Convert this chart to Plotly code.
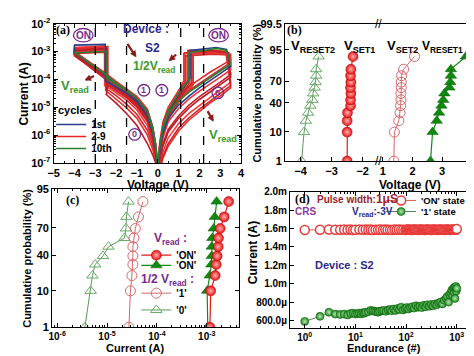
import plotly.graph_objects as go
from statistics import NormalDist

W, H = 474, 356
FONT = "Liberation Sans"
SERIF = "Liberation Serif"

# ---------------- (a) I-V switching cycles ----------------
CYCLE_NAMES = ["1st", "2-9", "2-9", "2-9", "2-9", "2-9", "2-9", "2-9", "2-9", "10th"]
V_NEG = [-0.03, -0.1, -0.25, -0.5, -1.0, -1.5, -2.0, -2.5]
I_NEG = [
    [1.2e-7, 3e-7, 1.2e-6, 5e-6, 1.6e-5, 3.2e-5, 5.5e-5, 9e-5],
    [1.4e-7, 4e-7, 1.8e-6, 8e-6, 2.4e-5, 4.2e-5, 7e-5, 1.2e-4],
    [1e-7, 2.5e-7, 9e-7, 3.5e-6, 1.2e-5, 2.5e-5, 4.5e-5, 8e-5],
    [8e-8, 2e-7, 6e-7, 2.2e-6, 8e-6, 1.8e-5, 3.4e-5, 6e-5],
    [7e-8, 1.6e-7, 4.5e-7, 1.5e-6, 5.5e-6, 1.3e-5, 2.6e-5, 4.8e-5],
    [6e-8, 1.3e-7, 3.2e-7, 1e-6, 4e-6, 9.5e-6, 2e-5, 4e-5],
    [5e-8, 1e-7, 2e-7, 5e-7, 2.2e-6, 6e-6, 1.4e-5, 3e-5],
    [1.3e-7, 3.5e-7, 1.5e-6, 6.5e-6, 2e-5, 3.8e-5, 6.5e-5, 1.1e-4],
    [9e-8, 2.2e-7, 7.5e-7, 3e-6, 1e-5, 2.2e-5, 4e-5, 7e-5],
    [1.3e-7, 3.6e-7, 1.6e-6, 7e-6, 2.1e-5, 4e-5, 6.8e-5, 1.15e-4],
]
V_SET1 = [-2.52, -2.5, -2.45, -2.55, -2.4, -2.5, -2.45, -2.55, -2.42, -2.45]
I_ON_NEG = [1.8e-3, 1.4e-3, 1.2e-3, 1.0e-3, 1.5e-3, 1.1e-3, 1.3e-3, 1.6e-3, 9.5e-4, 1.0e-3]
I_ON_NEG_END = [1.7e-3, 1.2e-3, 1.0e-3, 9e-4, 1.3e-3, 1.0e-3, 1.1e-3, 1.4e-3, 8.5e-4, 9e-4]
V_RET_NEG = [-4.0, -3.5, -3.0, -2.5, -2.0, -1.5, -1.0, -0.5, -0.25, -0.1, -0.03]
I_RET_NEG = [
    [9e-4, 5e-4, 2.7e-4, 1.4e-4, 7e-5, 4e-5, 2e-5, 7e-6, 1.8e-6, 4e-7, 1.3e-7],
    [1e-3, 5.5e-4, 3e-4, 1.6e-4, 8e-5, 4.5e-5, 2.3e-5, 8e-6, 2e-6, 4.5e-7, 1.4e-7],
    [8e-4, 4.5e-4, 2.5e-4, 1.3e-4, 6.5e-5, 3.5e-5, 1.7e-5, 5.5e-6, 1.4e-6, 3.2e-7, 1.1e-7],
    [8.5e-4, 4.6e-4, 2.4e-4, 1.2e-4, 6e-5, 3.2e-5, 1.5e-5, 4.5e-6, 1.1e-6, 2.6e-7, 1e-7],
    [9.5e-4, 5.2e-4, 2.8e-4, 1.5e-4, 7.5e-5, 4e-5, 1.9e-5, 6.5e-6, 1.6e-6, 3.8e-7, 1.2e-7],
    [7.5e-4, 4e-4, 2.2e-4, 1.1e-4, 5.5e-5, 2.8e-5, 1.3e-5, 4e-6, 9e-7, 2.2e-7, 9e-8],
    [8e-4, 4.3e-4, 2.3e-4, 1.2e-4, 5.8e-5, 3e-5, 1.4e-5, 4.2e-6, 1e-6, 2.4e-7, 9e-8],
    [1e-3, 5.6e-4, 3.1e-4, 1.65e-4, 8.5e-5, 4.6e-5, 2.4e-5, 8.5e-6, 2.1e-6, 4.8e-7, 1.5e-7],
    [7e-4, 3.8e-4, 2e-4, 1e-4, 5e-5, 2.6e-5, 1.2e-5, 3.5e-6, 8e-7, 2e-7, 8e-8],
    [9e-4, 5e-4, 2.8e-4, 1.5e-4, 7.5e-5, 4.2e-5, 2.1e-5, 7.5e-6, 1.9e-6, 4.2e-7, 1.3e-7],
]
V_POS = [0.03, 0.1, 0.25, 0.5, 1.0]
I_POS = [
    [1.2e-7, 4e-7, 1.8e-6, 7e-6, 3e-5],
    [1.5e-7, 5e-7, 2.5e-6, 1e-5, 4e-5],
    [1e-7, 3e-7, 1.2e-6, 5e-6, 2.2e-5],
    [9e-8, 2.5e-7, 1e-6, 4e-6, 1.8e-5],
    [1.3e-7, 4.5e-7, 2e-6, 8e-6, 3.4e-5],
    [8e-8, 2e-7, 8e-7, 3.5e-6, 1.5e-5],
    [1.1e-7, 3.5e-7, 1.5e-6, 6e-6, 2.6e-5],
    [1.4e-7, 4.8e-7, 2.2e-6, 9e-6, 3.7e-5],
    [1e-7, 2.8e-7, 1.1e-6, 4.5e-6, 2e-5],
    [1.3e-7, 4.2e-7, 1.9e-6, 7.5e-6, 3.2e-5],
]
V_SET2 = [1.55, 1.3, 1.5, 1.65, 1.35, 1.7, 1.45, 1.25, 1.6, 1.5]
I_PRE2 = [1.1e-4, 8e-5, 7e-5, 7.5e-5, 9e-5, 6.5e-5, 8e-5, 9e-5, 7e-5, 1e-4]
I_ON_POS = [1.1e-3, 9e-4, 8e-4, 1e-3, 7e-4, 9e-4, 1.1e-3, 8.5e-4, 1e-3, 9e-4]
V_ON_MID = [2.8, 2.7, 2.9, 2.8, 2.6, 2.9, 2.75, 2.85, 2.7, 2.85]
I_ON_MID = [1.4e-3, 1e-3, 9e-4, 1.1e-3, 8e-4, 9.5e-4, 1.05e-3, 9e-4, 1e-3, 1.3e-3]
V_RESET1 = [3.3, 3.4, 3.35, 3.25, 3.45, 3.3, 3.4, 3.5, 3.35, 3.3]
I_ON_END = [1.2e-3, 9e-4, 8e-4, 1e-3, 7.5e-4, 8e-4, 9e-4, 8e-4, 9e-4, 1.1e-3]
V_RET_POS = [3.5, 3.0, 2.5, 2.0, 1.5, 1.0, 0.5, 0.25, 0.1, 0.03]
I_RET_POS = [
    [3e-4, 1.6e-4, 9e-5, 5e-5, 2.5e-5, 1.2e-5, 4e-6, 1.2e-6, 3e-7, 1e-7],
    [5e-4, 3e-4, 1.8e-4, 1e-4, 5.5e-5, 2.8e-5, 1e-5, 3e-6, 6e-7, 1.5e-7],
    [1.5e-4, 8e-5, 4.5e-5, 2.4e-5, 1.2e-5, 5e-6, 1.6e-6, 5e-7, 1.6e-7, 7e-8],
    [8e-5, 4.2e-5, 2.3e-5, 1.2e-5, 6e-6, 2.6e-6, 8e-7, 2.5e-7, 1e-7, 5e-8],
    [4e-4, 2.3e-4, 1.3e-4, 7.5e-5, 4e-5, 2e-5, 7e-6, 2e-6, 4.5e-7, 1.3e-7],
    [5e-5, 2.5e-5, 1.4e-5, 7e-6, 3.5e-6, 1.4e-6, 4e-7, 1.5e-7, 6e-8, 4e-8],
    [1.2e-4, 6.5e-5, 3.5e-5, 1.9e-5, 9.5e-6, 4e-6, 1.3e-6, 4e-7, 1.3e-7, 6e-8],
    [2.2e-4, 1.2e-4, 7e-5, 3.8e-5, 2e-5, 9e-6, 3e-6, 9e-7, 2.5e-7, 9e-8],
    [6e-5, 3.2e-5, 1.7e-5, 8.5e-6, 4.2e-6, 1.8e-6, 5e-7, 1.7e-7, 7e-8, 4e-8],
    [3.5e-4, 2e-4, 1.1e-4, 6.5e-5, 3.5e-5, 1.7e-5, 6e-6, 1.7e-6, 4e-7, 1.2e-7],
]
I_ZERO = 3e-8
READ_LINES_V = [-3.0, -1.5, 1.1, 2.2]
A_YTICKS = [1e-7, 1e-6, 1e-5, 1e-4, 1e-3, 1e-2]
A_YLABELS = ["10<sup>-7</sup>", "10<sup>-6</sup>", "10<sup>-5</sup>", "10<sup>-4</sup>", "10<sup>-3</sup>", "10<sup>-2</sup>"]

# ---------------- (b) switching voltage distributions ----------------
P_B = [1, 9.8, 18.7, 27.4, 36.3, 44.3, 53.5, 61.6, 68.8, 76.4, 82.9, 92]
RESET2_V = [-3.97, -3.89, -3.83, -3.76, -3.69, -3.62, -3.60, -3.55, -3.52, -3.50, -3.50, -3.42]
SET1_V = [-2.50, -2.50, -2.50, -2.49, -2.39, -2.39, -2.38, -2.39, -2.38, -2.39, -2.38, -2.31]
SET2_V = [1.37, 1.39, 1.54, 1.58, 1.60, 1.61, 1.61, 1.62, 1.62, 1.63, 1.70, 2.07]
RESET1_V = [2.61, 2.68, 2.82, 2.90, 2.98, 3.04, 3.08, 3.25, 3.28, 3.30, 3.30, 3.81]
B_PTICKS = [1, 10, 40, 70, 95, 99.5]

# ---------------- (c) read current distributions ----------------
P_C = [1, 10, 20, 30, 39, 49.5, 59.3, 69.5, 80, 90]
ON_RED_I = [1.16e-3, 1.2e-3, 1.48e-3, 1.55e-3, 1.62e-3, 1.7e-3, 1.72e-3, 1.86e-3, 2.24e-3, 2.75e-3]
ON_GREEN_I = [1.05e-3, 1.02e-3, 1.15e-3, 1.24e-3, 1.26e-3, 1.26e-3, 1.29e-3, 1.38e-3, 1.45e-3, 1.58e-3]
ONE_I = [2.75e-5, 2.95e-5, 3.16e-5, 3.3e-5, 3.3e-5, 3.3e-5, 3.47e-5, 3.7e-5, 4.27e-5, 5.25e-5]
ZERO_I = [3.6e-6, 4.7e-6, 5.1e-6, 5.8e-6, 8.3e-6, 1.07e-5, 2.24e-5, 2.4e-5, 2.45e-5, 2.7e-5]
C_PTICKS = [1, 10, 40, 70, 95]
C_XTICKS = [1e-6, 1e-5, 1e-4, 1e-3]
C_XLABELS = ["10<sup>-6</sup>", "10<sup>-5</sup>", "10<sup>-4</sup>", "10<sup>-3</sup>"]

# ---------------- (d) endurance ----------------
ON_N = [1, 2, 3, 4, 5, 6, 7, 8, 9, 10, 12, 14, 16, 18, 20, 22, 25, 28, 31, 35, 39, 43, 48, 53,
        59, 65, 72, 80, 88, 97, 102, 107, 112, 118, 124, 130, 137, 143, 150, 158, 166, 174, 183,
        192, 202, 212, 223, 234, 246, 258, 271, 285, 299, 314, 330, 347, 365, 383, 402, 422,
        443, 466, 490, 514, 540, 567, 596, 626, 657, 690, 725, 762, 800, 840, 882, 927, 970, 1000]
ON_MA = [1.585, 1.588, 1.590, 1.588, 1.586, 1.590, 1.587, 1.589, 1.585, 1.588, 1.590, 1.586,
         1.589, 1.587, 1.590, 1.585, 1.588, 1.586, 1.589, 1.587, 1.590, 1.586, 1.588, 1.585,
         1.589, 1.587, 1.590, 1.586, 1.588, 1.585, 1.589, 1.587, 1.590, 1.586, 1.588, 1.585,
         1.589, 1.587, 1.590, 1.586, 1.588, 1.585, 1.589, 1.587, 1.590, 1.586, 1.588, 1.585,
         1.589, 1.587, 1.590, 1.586, 1.588, 1.585, 1.589, 1.587, 1.590, 1.586, 1.588, 1.585,
         1.589, 1.587, 1.590, 1.586, 1.588, 1.585, 1.589, 1.587, 1.590, 1.586, 1.588, 1.585,
         1.589, 1.587, 1.590, 1.586, 1.588, 1.595]
ONE_N = [1, 2, 3, 4, 5, 6, 7, 8, 9, 10, 11, 12, 13, 14, 15, 16, 18, 20, 22, 24, 26, 28, 30,
         33, 36, 40, 44, 48, 52, 57, 62, 68, 74, 80, 87, 95, 103, 112, 122, 133, 145, 158, 172,
         187, 204, 222, 242, 263, 287, 312, 340, 370, 403, 439, 478, 520, 566, 617, 650, 690,
         720, 760, 800, 830, 860, 880, 900, 920, 940, 960, 980, 1000]
ONE_MA = [0.590, 0.645, 0.690, 0.670, 0.665, 0.670, 0.660, 0.675, 0.680, 0.670, 0.675, 0.680,
          0.672, 0.685, 0.680, 0.690, 0.695, 0.710, 0.705, 0.700, 0.695, 0.690, 0.700, 0.705,
          0.710, 0.700, 0.715, 0.720, 0.705, 0.725, 0.710, 0.730, 0.720, 0.745, 0.715, 0.730,
          0.740, 0.725, 0.740, 0.750, 0.735, 0.760, 0.745, 0.755, 0.740, 0.765, 0.750, 0.770,
          0.755, 0.775, 0.760, 0.780, 0.770, 0.790, 0.800, 0.780, 0.820, 0.840, 0.860, 0.800,
          0.880, 0.900, 0.930, 0.870, 0.950, 0.910, 0.960, 0.840, 0.940, 0.970, 0.920, 0.950]
D_XTICKS = [1, 10, 100, 1000]
D_XLABELS = ["10<sup>0</sup>", "10<sup>1</sup>", "10<sup>2</sup>", "10<sup>3</sup>"]
D_YTICKS = [0.6, 0.8, 1.0, 1.2, 1.4, 1.6, 1.8, 2.0]
D_YLABELS = ["600.0\u00b5", "800.0\u00b5", "1.0m", "1.2m", "1.4m", "1.6m", "1.8m", "2.0m"]

nd = NormalDist()


def probit(plist):
    return [nd.inv_cdf(p / 100.0) for p in plist]


def px(x):
    return x / W


def py(y):
    return 1 - y / H


fig = go.Figure()

# ---- panel (a) traces ----
RED_SHADES = ["#e8262a", "#c81e28", "#f03c3c", "#d42a2a", "#e03030", "#b81c24", "#ee3535", "#d02020"]
LEG_A = {0: "legend", 1: "legend2", 9: "legend3"}
order = list(range(1, 9)) + [0, 9]
for c in order:
    vv = ([0.0] + V_NEG + [V_SET1[c], V_SET1[c], -4.0] + V_RET_NEG + [0.0] + V_POS
          + [V_SET2[c], V_SET2[c], V_ON_MID[c], V_RESET1[c]] + V_RET_POS + [0.0])
    ii = ([I_ZERO] + I_NEG[c] + [I_NEG[c][-1], I_ON_NEG[c], I_ON_NEG_END[c]] + I_RET_NEG[c]
          + [I_ZERO] + I_POS[c] + [I_PRE2[c], I_ON_POS[c], I_ON_MID[c], I_ON_END[c]]
          + I_RET_POS[c] + [I_ZERO])
    if c == 0:
        col = "#2b3f8c"
    elif c == 9:
        col = "#2e7d32"
    else:
        col = RED_SHADES[c - 1]
    fig.add_trace(go.Scatter(x=vv, y=ii, mode="lines", xaxis="x", yaxis="y",
                             line=dict(color=col, width=1.6), name=CYCLE_NAMES[c],
                             showlegend=(c in LEG_A), legend=LEG_A.get(c, "legend")))

# ---- panel (b) traces ----
PB = probit(P_B)
fig.add_trace(go.Scatter(x=RESET2_V, y=PB, xaxis="x2", yaxis="y2", mode="lines+markers",
                         line=dict(color="#5a9a5a", width=1),
                         marker=dict(symbol="triangle-up-open", size=10, color="#6aaa6a", line=dict(width=1)),
                         showlegend=False))
fig.add_trace(go.Scatter(x=SET1_V, y=PB, xaxis="x2", yaxis="y2", mode="lines+markers",
                         line=dict(color="#e01818", width=1.2),
                         marker=dict(symbol="circle", size=10, color="#e81414",
                                     gradient=dict(type="radial", color="#ffb0b0"),
                                     line=dict(width=0.5, color="#b00000")),
                         showlegend=False))
fig.add_trace(go.Scatter(x=SET2_V, y=PB, xaxis="x3", yaxis="y2", mode="lines+markers",
                         line=dict(color="#d06a6a", width=1),
                         marker=dict(symbol="circle-open", size=10, color="#d86a6a", line=dict(width=1)),
                         showlegend=False))
fig.add_trace(go.Scatter(x=RESET1_V, y=PB, xaxis="x3", yaxis="y2", mode="lines+markers",
                         line=dict(color="#138a13", width=1.2),
                         marker=dict(symbol="triangle-up", size=10, color="#0f8a0f",
                                     line=dict(width=0.5, color="#0a5a0a")),
                         showlegend=False))

# ---- panel (c) traces ----
PC = probit(P_C)
fig.add_trace(go.Scatter(x=ZERO_I, y=PC, xaxis="x4", yaxis="y4", mode="lines+markers",
                         line=dict(color="#5a9a5a", width=1),
                         marker=dict(symbol="triangle-up-open", size=10, color="#6aaa6a", line=dict(width=1)),
                         name="'0'", legend="legend7"))
fig.add_trace(go.Scatter(x=ONE_I, y=PC, xaxis="x4", yaxis="y4", mode="lines+markers",
                         line=dict(color="#d06a6a", width=1),
                         marker=dict(symbol="circle-open", size=10, color="#d86a6a", line=dict(width=1)),
                         name="'1'", legend="legend6"))
fig.add_trace(go.Scatter(x=ON_GREEN_I, y=PC, xaxis="x4", yaxis="y4", mode="lines+markers",
                         line=dict(color="#138a13", width=1.2),
                         marker=dict(symbol="triangle-up", size=10, color="#0f8a0f",
                                     line=dict(width=0.5, color="#0a5a0a")),
                         name="'ON'", legend="legend5"))
fig.add_trace(go.Scatter(x=ON_RED_I, y=PC, xaxis="x4", yaxis="y4", mode="lines+markers",
                         line=dict(color="#e01818", width=1.2),
                         marker=dict(symbol="circle", size=10, color="#e81414",
                                     gradient=dict(type="radial", color="#ffb0b0"),
                                     line=dict(width=0.5, color="#b00000")),
                         name="'ON'", legend="legend4"))

# ---- panel (d) traces ----
fig.add_trace(go.Scatter(x=ONE_N, y=ONE_MA, xaxis="x5", yaxis="y5", mode="lines+markers",
                         line=dict(color="#2a6a2a", width=0.8),
                         marker=dict(symbol="circle", size=8, color="#1e8c1e",
                                     gradient=dict(type="radial", color="#b8e8b8"),
                                     line=dict(width=0.6, color="#106010")),
                         name="'1' state", legend="legend9"))
fig.add_trace(go.Scatter(x=ON_N, y=ON_MA, xaxis="x5", yaxis="y5", mode="lines+markers",
                         line=dict(color="#e05a5a", width=1),
                         marker=dict(symbol="circle", size=9, color="white",
                                     line=dict(width=1.5, color="#e83a3a")),
                         name="'ON' state", legend="legend8"))

# ---- axes ----
TF = dict(family=FONT, size=11, color="black", weight="bold")
base = dict(showline=True, linecolor="black", linewidth=1.2, ticks="inside", ticklen=4,
            tickwidth=1, tickcolor="black", showgrid=False, zeroline=False, tickfont=TF)

log_minor_a = [m * 10 ** e for e in range(-7, -2) for m in range(2, 10)]
log_minor_d = [m * 10 ** e for e in range(0, 4) for m in range(2, 10)]

layout_axes = dict(
    xaxis=dict(base, domain=[px(40.5), px(232)], range=[-5, 4], dtick=1, anchor="y", mirror="ticks",
               minor=dict(dtick=0.5, ticks="inside", ticklen=2, tickcolor="black")),
    yaxis=dict(base, domain=[py(153), py(8)], type="log", range=[-7, -2], anchor="x", mirror="ticks",
               tickvals=A_YTICKS, ticktext=A_YLABELS,
               minor=dict(tickvals=log_minor_a, ticks="inside", ticklen=2, tickcolor="black")),
    xaxis2=dict(base, domain=[px(277), px(372)], range=[-4.5, -1.5], tickvals=[-4, -3, -2],
                anchor="y2", mirror=True),
    xaxis3=dict(base, domain=[px(372), px(472)], range=[0.84, 4.15], tickvals=[1, 2, 3, 4],
                anchor="y2", mirror=True),
    yaxis2=dict(base, domain=[py(151), py(8)], range=probit([1, 99.5]), anchor="x2", mirror=False,
                tickvals=probit(B_PTICKS), ticktext=[str(p) for p in B_PTICKS]),
    yaxis3=dict(base, overlaying="y2", anchor="x3", side="right", range=probit([1, 99.5]),
                tickvals=probit(B_PTICKS), showticklabels=False),
    xaxis4=dict(base, domain=[px(39), px(230)], type="log", range=[-6.1, -2.35], anchor="y4",
                mirror="ticks", tickvals=C_XTICKS, ticktext=C_XLABELS, tickfont=dict(TF, size=10),
                minor=dict(tickvals=log_minor_a, ticks="inside", ticklen=2, tickcolor="black")),
    yaxis4=dict(base, domain=[py(324), py(180)], range=probit([1, 95]), anchor="x4", mirror="ticks",
                tickvals=probit(C_PTICKS), ticktext=[str(p) for p in C_PTICKS]),
    xaxis5=dict(base, domain=[px(282), px(473)], type="log", range=[-0.29, 3.4], anchor="y5",
                mirror="ticks", tickvals=D_XTICKS, ticktext=D_XLABELS, tickfont=dict(TF, size=10),
                minor=dict(tickvals=log_minor_d, ticks="inside", ticklen=2, tickcolor="black")),
    yaxis5=dict(base, domain=[py(325), py(183)], range=[0.516, 2.0], anchor="x5", mirror="ticks",
                tickvals=D_YTICKS, ticktext=D_YLABELS, tickfont=dict(TF, size=10)),
)

# ---- annotations ----
anns = []


def ann(x, y, text, size=11, color="black", family=FONT, weight="bold", **kw):
    d = dict(x=px(x), y=py(y), xref="paper", yref="paper", text=text, showarrow=False,
             font=dict(family=family, size=size, color=color, weight=weight),
             xanchor="center", yanchor="middle")
    d.update(kw)
    anns.append(d)


def arrow(hx, hy, tx, ty):
    anns.append(dict(x=px(hx), y=py(hy), xref="paper", yref="paper", text="", showarrow=True,
                     ax=tx - hx, ay=ty - hy, arrowhead=2, arrowsize=0.6, arrowwidth=2.2,
                     arrowcolor="#8b1a1a"))


NAVY = "#2a2a8c"
GREEN = "#3a9a2a"
PURPLE = "#7a2a8a"

# axis titles
ann(147, 176, "Voltage (V)", size=12)
ann(10, 81, "Current (A)", size=12, textangle=-90)
ann(405, 176, "Voltage (V)", size=12)
ann(248, 80, "Cumulative probability (%)", size=11, textangle=-90)
ann(124, 346, "Current (A)", size=11)
ann(13, 252, "Cumulative probability (%)", size=11, textangle=-90)
ann(378, 346, "Endurance (#)", size=11)
ann(244, 246, "Current (A)", size=12, textangle=-90)

# panel (a) labels
ann(50, 15, "(a)", size=12, family=SERIF)
ann(70.7, 20, "ON", size=10, color=PURPLE)
ann(209, 20, "ON", size=10, color=PURPLE)
ann(135, 14, "Device :", size=12, color=NAVY)
ann(141, 33, "S2", size=12, color=NAVY)
ann(143, 53, "1/2V<sub>read</sub>", size=12, color=GREEN)
ann(62, 73, "V<sub>read</sub>", size=13, color=GREEN)
ann(214, 124, "V<sub>read</sub>", size=13, color=GREEN)
ann(132.7, 77.3, "1", size=9, color=PURPLE)
ann(151, 77.3, "1", size=9, color=PURPLE)
ann(123.3, 123.3, "0", size=9, color=PURPLE)
ann(208.3, 80, "0", size=9, color=PURPLE)
ann(43, 98, "cycles", size=11, xanchor="left")
arrow(125, 43, 115, 28)
arrow(158, 47, 167, 39)
arrow(72, 67, 83, 62)
arrow(204, 110, 197, 98)

# panel (b) labels
ann(287, 15, "(b)", size=12, family=SERIF)
ann(305, 32, "V<sub>RESET2</sub>", size=13)
ann(353, 32, "V<sub>SET1</sub>", size=13)
ann(397, 32, "V<sub>SET2</sub>", size=13)
ann(438, 32, "V<sub>RESET1</sub>", size=12)
ann(372, 8, "//", size=12, weight="normal")
ann(372, 151, "//", size=12, weight="normal")

# panel (c) labels
ann(60, 192, "(c)", size=12, family=SERIF)
ann(160, 232, "V<sub>read</sub> :", size=12, color=PURPLE)
ann(157, 275, "1/2 V<sub>read</sub> :", size=12, color=PURPLE)

# panel (d) labels
ann(295, 191, "(d)", size=12, family=SERIF)
ann(351, 191, "Pulse width:<span style='font-size:12px'>1\u03bcS</span>", size=10, color="#9a1e2e")
ann(298, 204, "CRS", size=10, color="#8a3a9a")
ann(366, 204, "V<sub>read</sub>:-3V", size=10, color=NAVY)
ann(338, 259, "Device : S2", size=11, color=NAVY)

# ---- shapes ----
shapes = []
for v in READ_LINES_V:
    shapes.append(dict(type="line", xref="x", yref="y domain", x0=v, x1=v, y0=0, y1=1,
                       line=dict(color="black", width=1.3, dash="dash")))


def oval(cx, cy, rx, ry):
    shapes.append(dict(type="circle", xref="paper", yref="paper",
                       x0=px(cx - rx), x1=px(cx + rx), y0=py(cy + ry), y1=py(cy - ry),
                       line=dict(color=PURPLE, width=1.3)))


oval(70.7, 20, 10, 7)
oval(209, 20, 10, 7)
oval(132.7, 77.3, 6, 6)
oval(151, 77.3, 6, 6)
oval(123.3, 123.3, 6, 6)
oval(208.3, 80, 6, 6)

LEGFONT = dict(family=FONT, size=10, color="black", weight="bold")


def leg(x, y, size=10):
    return dict(x=px(x), y=py(y), xanchor="left", yanchor="middle", bgcolor="rgba(0,0,0,0)",
                font=dict(LEGFONT, size=size), itemwidth=30, tracegroupgap=0)


fig.update_layout(
    width=W, height=H, margin=dict(l=0, r=0, t=0, b=0),
    paper_bgcolor="white", plot_bgcolor="white",
    annotations=anns, shapes=shapes,
    legend=leg(38, 113), legend2=leg(38, 125.5), legend3=leg(38, 138),
    legend4=leg(125, 249), legend5=leg(125, 259.5), legend6=leg(125, 288.5), legend7=leg(125, 306),
    legend8=leg(375, 192, 9.5), legend9=leg(375, 203.5, 9.5),
    **layout_axes,
)

fig.write_html("out.html")
